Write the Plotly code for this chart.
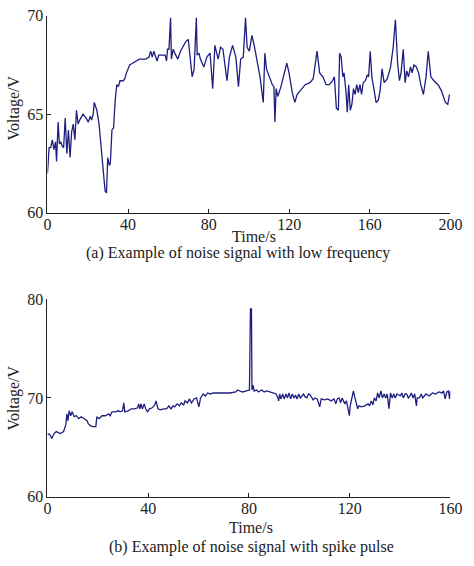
import plotly.graph_objects as go

# ---- (a) noise signal with low frequency ----
time_a = [0, 0.8, 1.6, 2.4, 3.2, 4.0, 4.5, 5.3, 5.9, 6.6, 7.2, 8.0, 8.8, 9.6, 10.4, 11.2, 12.0, 12.8,
          13.6, 14.4, 15.2, 16.0, 17.6, 19.2, 20.3, 21.2, 21.9, 22.7, 23.2, 24.5, 25.6, 26.4, 27.2,
          28.0, 28.6, 29.3, 29.9, 30.7, 31.2, 32.0, 32.8, 33.6, 34.4, 35.2, 36.0, 37.6, 38.4, 39.2,
          40.8, 42.4, 44.0, 45.6, 48.8, 50.4, 51.2, 52.0, 52.8, 53.6, 54.4, 55.2, 56.7, 58.4, 59.1,
          59.6, 60.3, 61.1, 61.5, 62.4, 63.2, 64.7, 66.0, 67.1, 68.7, 69.9, 70.8, 71.8, 72.8, 73.9,
          74.3, 75.2, 75.9, 77.6, 79.1, 80.7, 82.0, 83.1, 84.7, 85.9, 87.1, 89.1, 90.3, 91.9, 93.5,
          94.8, 95.9, 97.2, 98.3, 99.1, 100.2, 101.5, 102.8, 103.9, 105.5, 107.1, 107.9, 108.7,
          110.3, 111.6, 112.4, 112.9, 113.5, 114.3, 115.9, 117.5, 118.8, 119.9, 121.5, 122.8, 123.9,
          125.5, 127.9, 130.3, 131.9, 133.8, 135.1, 136.7, 138.3, 139.9, 141.5, 142.4, 143.4, 144.4,
          145.0, 145.8, 146.6, 147.2, 148.2, 148.8, 149.5, 150.3, 151.1, 151.9, 152.7, 153.5, 154.3,
          155.1, 155.9, 156.7, 157.8, 158.8, 159.4, 160.2, 161.0, 162.0, 163.1, 164.2, 165.1, 166.1,
          167.1, 168.7, 170.3, 171.6, 172.7, 173.8, 174.7, 175.5, 176.6, 177.5, 178.3, 179.2, 180.2,
          181.0, 181.9, 183.1, 184.2, 185.3, 186.6, 187.9, 189.0, 190.3, 191.8, 193.9, 195.5, 197.5,
          198.7, 199.5]
volt_a = [62.0, 63.3, 63.3, 63.7, 63.2, 63.6, 62.6, 64.6, 63.5, 63.6, 63.4, 63.3, 64.8, 63.0, 64.2,
          62.8, 64.1, 64.5, 63.7, 65.2, 64.5, 64.7, 65.0, 64.8, 64.6, 64.9, 64.7, 65.0, 65.6, 65.2,
          64.5, 63.5, 62.4, 61.5, 61.1, 61.0, 62.8, 62.4, 62.5, 64.2, 64.3, 65.7, 66.5, 66.4, 66.7,
          66.7, 66.8, 67.1, 67.5, 67.6, 67.7, 67.8, 67.8, 67.9, 68.2, 67.9, 68.2, 67.9, 67.7, 68.0,
          68.0, 68.0, 67.7, 68.3, 68.3, 69.9, 67.8, 68.3, 68.1, 67.8, 68.2, 68.4, 68.7, 68.8, 67.8,
          66.9, 67.3, 69.9, 68.0, 68.1, 67.8, 67.4, 67.9, 68.1, 66.3, 68.5, 67.8, 68.4, 68.3, 66.7,
          67.9, 68.5, 67.9, 66.4, 67.8, 67.9, 69.9, 68.4, 68.2, 69.0, 68.4, 67.8, 66.9, 65.6, 68.1,
          67.3, 66.8, 66.5, 66.4, 64.6, 66.3, 65.9, 66.4, 67.1, 67.6, 67.1, 66.1, 65.6, 66.0, 66.2,
          66.5, 66.6, 66.8, 68.2, 67.1, 66.9, 66.5, 66.5, 66.7, 66.9, 65.3, 65.2, 68.1, 67.9, 66.9,
          67.1, 66.1, 65.1, 66.5, 65.2, 65.5, 66.3, 66.0, 66.5, 66.1, 66.5, 66.0, 66.6, 66.7, 67.0,
          66.9, 68.2, 66.9, 66.3, 65.6, 65.7, 66.2, 67.3, 66.6, 66.8, 67.4, 68.4, 69.8, 67.6, 66.7,
          67.1, 68.3, 66.6, 67.2, 66.9, 67.4, 67.1, 67.5, 67.4, 67.1, 66.5, 66.0, 66.9, 68.2, 66.9,
          66.7, 66.5, 66.2, 65.6, 65.5, 66.0]

# ---- (b) noise signal with spike pulse ----
time_b = [0, 0.9, 1.7, 2.6, 3.5, 5.1, 6.4, 7.3, 7.7, 8.1, 8.6, 9.2, 9.8, 10.6, 11.5, 12.4, 13.4, 14.7,
          15.7, 16.2, 17.0, 17.9, 19.2, 19.6, 20.5, 21.7, 23.0, 24.3, 24.9, 25.6, 26.9, 28.1, 28.8,
          29.8, 30.3, 30.7, 32.0, 33.3, 34.5, 35.8, 36.2, 36.7, 37.1, 37.7, 38.4, 39.0, 39.7, 40.5,
          41.6, 42.6, 43.1, 43.9, 44.8, 46.0, 47.3, 48.2, 49.0, 49.9, 50.5, 51.5, 52.4, 53.1, 54.1,
          54.6, 55.6, 56.3, 57.2, 58.2, 59.2, 60.1, 60.8, 61.8, 62.7, 63.6, 64.6, 65.9, 67.2, 68.4,
          69.7, 71.0, 72.3, 74.8, 75.5, 77.4, 79.3, 80.2, 80.6, 81.0, 81.2, 81.6, 82.1, 83.1, 83.8,
          85.1, 86.1, 87.0, 88.3, 89.5, 90.8, 91.5, 91.8, 92.2, 92.7, 93.4, 94.0, 94.7, 95.3, 95.9,
          96.6, 97.2, 97.9, 98.5, 99.1, 99.8, 100.4, 101.7, 102.3, 103.0, 103.6, 104.3, 104.9, 105.5,
          106.2, 107.1, 108.1, 108.7, 110.0, 111.3, 112.6, 113.8, 114.5, 115.1, 115.8, 116.4, 117.0,
          118.1, 118.7, 119.3, 119.9, 120.2, 120.9, 121.5, 122.1, 122.8, 123.2, 123.7, 124.7, 126.0,
          127.3, 127.9, 128.6, 129.2, 129.8, 130.5, 131.1, 131.7, 132.4, 133.0, 133.7, 134.3, 134.9,
          135.6, 136.2, 136.9, 137.5, 138.1, 138.8, 140.1, 140.7, 141.3, 142.0, 142.6, 143.3, 143.9,
          144.5, 145.2, 145.8, 146.5, 146.8, 147.7, 148.4, 149.0, 150.3, 151.6, 152.9, 154.1, 155.4,
          156.7, 157.3, 157.9, 158.6, 159.2, 159.7, 160.0]
volt_b = [66.4, 66.3, 65.9, 66.4, 66.6, 66.4, 66.6, 67.3, 68.4, 67.7, 68.7, 68.2, 68.6, 68.1, 68.2,
          67.9, 68.1, 67.9, 67.7, 67.4, 67.2, 67.1, 67.1, 68.1, 67.9, 68.2, 68.2, 68.4, 68.2, 68.6,
          68.6, 68.7, 68.6, 68.7, 69.5, 68.6, 68.7, 68.9, 68.9, 69.0, 69.4, 68.9, 69.4, 68.9, 69.4,
          68.9, 68.6, 68.9, 69.0, 69.3, 69.7, 68.9, 68.8, 68.9, 68.9, 69.2, 68.9, 69.2, 69.1, 69.4,
          69.2, 69.5, 69.3, 69.7, 69.5, 69.9, 69.5, 69.9, 70.0, 69.1, 70.0, 70.4, 70.2, 70.5, 70.4,
          70.5, 70.5, 70.5, 70.5, 70.5, 70.5, 70.6, 70.8, 70.6, 70.7, 70.8, 79.0, 79.0, 70.8, 71.3,
          70.7, 70.8, 70.6, 70.8, 70.6, 70.7, 70.6, 70.5, 70.4, 70.0, 69.7, 70.4, 69.9, 70.4, 69.9,
          70.4, 70.0, 70.5, 69.9, 70.4, 70.0, 70.3, 69.9, 70.4, 70.0, 70.4, 70.1, 70.0, 70.4, 70.3,
          70.1, 69.8, 70.0, 69.9, 69.1, 69.9, 69.8, 69.9, 69.7, 69.9, 69.4, 69.9, 70.0, 69.5, 70.0,
          69.4, 69.7, 69.1, 68.2, 69.2, 69.9, 70.7, 70.0, 69.4, 68.9, 69.2, 69.1, 69.2, 69.4, 69.2,
          69.7, 69.3, 70.0, 69.7, 70.5, 70.0, 70.7, 70.0, 70.4, 70.0, 70.4, 68.9, 70.5, 70.0, 70.4,
          70.0, 70.4, 70.2, 70.5, 70.0, 70.4, 70.4, 70.0, 70.2, 70.5, 70.0, 70.4, 69.2, 70.0, 70.0,
          70.4, 70.0, 70.4, 70.2, 70.5, 70.4, 70.6, 70.5, 70.7, 69.9, 70.6, 70.7, 69.9, 70.7]

ticks_a_x = [0, 40, 80, 120, 160, 200]
ticks_a_y = [60, 65, 70]
ticks_b_x = [0, 40, 80, 120, 160]
ticks_b_y = [60, 70, 80]

xlabel = "Time/s"
ylabel = "Voltage/V"
caption_a = "(a) Example of noise signal with low frequency"
caption_b = "(b) Example of noise signal with spike pulse"

W, H = 474, 566
LINE = "#1e1e80"
FONT = "Liberation Serif, Times New Roman, serif"
TXT = "#222222"

fig = go.Figure()
fig.add_trace(go.Scatter(x=time_a, y=volt_a, mode="lines", line=dict(color=LINE, width=1.3),
                         xaxis="x", yaxis="y", showlegend=False))
fig.add_trace(go.Scatter(x=time_b, y=volt_b, mode="lines", line=dict(color=LINE, width=1.3),
                         xaxis="x2", yaxis="y2", showlegend=False))

xd = [45 / W, 462 / W]
axis_common = dict(showline=True, linecolor="#222", linewidth=1, ticks="inside", ticklen=4,
                   tickcolor="#222", showgrid=False, zeroline=False,
                   tickfont=dict(family=FONT, size=16, color=TXT))

fig.update_layout(
    width=W, height=H, margin=dict(l=0, r=0, t=0, b=0),
    paper_bgcolor="white", plot_bgcolor="white",
    xaxis=dict(domain=xd, range=[0, 200], tickvals=ticks_a_x, anchor="y", ticklabelstandoff=-3,
               **axis_common),
    yaxis=dict(domain=[1 - 211 / H, 1 - 8 / H], range=[60, 70], tickvals=ticks_a_y, anchor="x",
               **axis_common),
    xaxis2=dict(domain=xd, range=[0, 160], tickvals=ticks_b_x, anchor="y2", ticklabelstandoff=-3,
                **axis_common),
    yaxis2=dict(domain=[1 - 504 / H, 1 - 300 / H], range=[60, 80], tickvals=ticks_b_y, anchor="x2",
                **axis_common),
)

def ann(text, xpx, ypx, angle=0, size=16):
    fig.add_annotation(text=text, x=xpx / W, y=1 - ypx / H, xref="paper", yref="paper",
                       showarrow=False, textangle=angle, xanchor="center", yanchor="middle",
                       font=dict(family=FONT, size=size, color=TXT))

ann(xlabel, 259, 236, size=16)
ann(caption_a, 242, 253)
ann(ylabel, 10, 103, -90)
ann(xlabel, 256, 536, size=16)
ann(caption_b, 256, 556)
ann(ylabel, 10, 402, -90)

fig.write_html("out.html")
